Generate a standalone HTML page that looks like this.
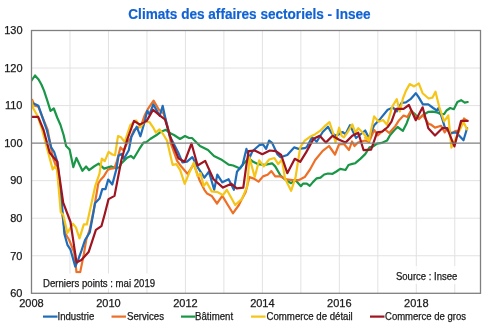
<!DOCTYPE html>
<html><head><meta charset="utf-8"><style>
html,body{margin:0;padding:0;background:#fff;width:500px;height:330px;overflow:hidden}
svg{display:block;will-change:transform}
text{font-family:"Liberation Sans",sans-serif;fill:#1a1a1a;stroke:#1a1a1a;stroke-width:0.25px}
.ax{font-size:11px}
.title{font-size:14px;font-weight:bold;fill:#1262d2;stroke:#1262d2;stroke-width:0.2px}
.note{font-size:10px}
.leg{font-size:10px;letter-spacing:-0.15px}
</style></head><body>
<svg width="500" height="330" viewBox="0 0 500 330">
<defs><clipPath id="pc"><rect x="31.5" y="30.5" width="449" height="262.8"/></clipPath></defs>
<line x1="69.98" y1="30.5" x2="69.98" y2="293.3" stroke="#e2e2e2" stroke-width="1"/>
<line x1="108.46" y1="30.5" x2="108.46" y2="293.3" stroke="#e2e2e2" stroke-width="1"/>
<line x1="146.94" y1="30.5" x2="146.94" y2="293.3" stroke="#e2e2e2" stroke-width="1"/>
<line x1="185.42" y1="30.5" x2="185.42" y2="293.3" stroke="#e2e2e2" stroke-width="1"/>
<line x1="223.90" y1="30.5" x2="223.90" y2="293.3" stroke="#e2e2e2" stroke-width="1"/>
<line x1="262.38" y1="30.5" x2="262.38" y2="293.3" stroke="#e2e2e2" stroke-width="1"/>
<line x1="300.86" y1="30.5" x2="300.86" y2="293.3" stroke="#e2e2e2" stroke-width="1"/>
<line x1="339.34" y1="30.5" x2="339.34" y2="293.3" stroke="#e2e2e2" stroke-width="1"/>
<line x1="377.82" y1="30.5" x2="377.82" y2="293.3" stroke="#e2e2e2" stroke-width="1"/>
<line x1="416.30" y1="30.5" x2="416.30" y2="293.3" stroke="#e2e2e2" stroke-width="1"/>
<line x1="454.78" y1="30.5" x2="454.78" y2="293.3" stroke="#e2e2e2" stroke-width="1"/>
<line x1="31.5" y1="255.74" x2="480.5" y2="255.74" stroke="#e2e2e2" stroke-width="1"/>
<line x1="31.5" y1="218.20" x2="480.5" y2="218.20" stroke="#e2e2e2" stroke-width="1"/>
<line x1="31.5" y1="180.66" x2="480.5" y2="180.66" stroke="#e2e2e2" stroke-width="1"/>
<line x1="31.5" y1="105.58" x2="480.5" y2="105.58" stroke="#e2e2e2" stroke-width="1"/>
<line x1="31.5" y1="68.04" x2="480.5" y2="68.04" stroke="#e2e2e2" stroke-width="1"/>
<polyline clip-path="url(#pc)" points="31.6,80.5 35.0,75.5 38.6,79.5 41.4,84.5 44.1,90.9 47.4,100.9 50.5,110.9 53.8,108.5 57.2,117.5 60.5,125.0 63.6,135.0 66.1,145.9 69.6,149.5 73.3,167.1 76.4,158.0 82.4,170.8 86.1,166.5 89.1,170.2 94.0,166.5 98.6,163.6 104.1,168.6 111.4,166.4 115.9,168.2 119.5,167.3 121.1,163.8 127.1,157.7 130.8,155.9 133.8,158.3 139.2,149.2 143.5,142.6 146.5,142.0 150.2,139.0 156.2,135.3 161.1,131.7 165.9,129.8 170.8,133.5 174.0,135.0 180.0,139.0 185.0,136.0 189.0,138.0 192.0,138.0 200.0,146.0 208.0,150.0 214.0,156.0 221.1,159.4 228.6,164.7 233.2,165.5 240.0,168.5 243.3,164.1 248.6,158.0 253.2,161.8 257.7,164.1 264.5,164.8 272.1,163.3 275.2,166.4 280.5,175.5 285.0,179.4 291.1,183.2 295.6,180.2 300.9,186.2 303.0,183.6 306.8,183.6 309.8,185.9 312.9,182.1 316.7,178.3 320.5,177.6 324.2,174.5 328.0,173.5 332.6,173.8 336.4,171.5 340.2,168.9 345.5,170.0 348.5,165.0 352.3,163.9 355.3,163.2 360.6,158.6 365.2,154.1 369.5,147.4 373.0,146.5 377.1,143.6 381.7,142.9 387.0,140.6 390.0,135.3 394.5,130.0 397.6,127.0 402.9,130.8 406.7,123.2 411.2,111.1 415.0,114.1 418.8,118.6 423.3,114.8 428.6,111.8 432.6,111.7 436.8,112.3 440.5,114.1 444.1,114.1 446.5,110.5 450.2,108.0 453.8,109.2 457.4,102.0 461.1,100.2 464.7,102.6 467.7,102.0" fill="none" stroke="#1a9647" stroke-width="2.2" stroke-linejoin="round" stroke-linecap="round"/>
<polyline clip-path="url(#pc)" points="32.2,100.0 34.7,105.7 38.3,106.6 43.6,120.0 47.7,130.0 52.7,157.0 57.5,170.0 62.0,212.3 65.0,232.9 69.2,240.0 74.1,252.1 76.5,272.1 80.2,272.1 83.8,254.5 86.2,240.0 89.8,229.2 94.7,205.0 98.3,183.3 100.5,180.0 104.1,175.9 107.7,170.0 110.9,168.6 114.5,168.2 116.8,161.4 120.5,147.4 123.5,150.5 128.3,140.8 130.3,138.9 134.0,130.0 137.4,128.0 140.9,126.2 144.6,115.6 147.8,109.2 153.6,100.6 158.9,109.7 163.5,113.5 168.0,127.9 171.1,144.2 177.1,160.9 181.7,167.1 187.7,173.9 193.8,164.1 199.8,180.8 204.4,189.8 207.1,193.6 211.7,195.9 217.0,203.5 222.3,195.9 232.9,213.3 238.9,205.0 241.1,200.6 245.6,192.3 249.4,177.1 253.9,178.6 258.5,181.7 263.0,176.4 267.6,174.8 271.4,171.1 275.2,176.4 280.5,176.4 286.5,179.4 292.6,180.2 298.6,180.2 304.7,177.1 310.0,169.5 315.2,160.0 322.7,150.9 329.0,146.0 335.0,154.5 339.0,144.5 344.0,144.0 349.0,150.0 352.0,141.5 354.5,146.0 358.0,142.5 365.0,140.5 369.0,142.0 374.1,130.0 377.9,135.3 384.7,129.2 389.2,133.0 395.3,126.2 399.1,120.2 403.6,115.6 407.4,117.1 411.2,110.3 415.0,116.4 419.0,119.0 422.9,115.0 428.6,123.9 430.8,124.5 435.0,127.6 441.1,125.8 444.7,132.4 447.7,128.2 451.4,133.6 455.0,131.2 458.6,130.6 464.1,118.5 467.1,120.9" fill="none" stroke="#ed7026" stroke-width="2.2" stroke-linejoin="round" stroke-linecap="round"/>
<polyline clip-path="url(#pc)" points="31.6,102.7 35.3,104.2 38.4,105.8 42.7,118.2 46.8,130.0 51.2,147.4 54.2,152.0 57.3,161.8 59.5,180.0 62.0,205.2 64.4,234.0 67.4,244.8 70.5,249.7 75.3,266.7 78.3,259.4 81.4,250.9 85.0,240.0 89.8,232.3 93.5,212.3 95.0,203.2 99.5,198.6 102.3,189.1 105.5,189.1 108.2,179.5 112.3,184.5 116.4,169.1 118.5,155.8 121.5,153.9 123.9,158.8 128.8,150.3 131.4,136.8 136.7,126.7 140.4,136.3 144.6,122.0 147.3,110.8 149.5,114.5 153.3,104.4 159.7,115.8 162.7,105.9 165.0,116.5 169.5,135.5 178.6,153.3 182.4,162.4 187.0,161.7 192.3,157.1 197.6,167.1 204.4,177.7 208.9,171.7 214.2,189.8 217.3,174.7 222.3,182.3 228.6,179.2 233.9,189.8 237.0,171.7 242.6,164.8 246.4,148.9 249.4,158.0 252.4,151.2 259.2,145.2 263.0,144.4 266.1,148.9 269.1,140.6 272.1,142.9 277.4,154.2 280.5,157.3 287.3,155.0 294.1,147.4 298.6,148.9 304.7,148.2 306.8,147.1 312.1,137.3 316.7,141.8 322.7,132.0 328.0,126.7 331.8,133.5 336.4,135.8 342.4,132.0 345.5,134.2 350.0,125.2 356.1,138.0 365.2,130.5 368.9,138.0 374.2,125.2 380.2,118.9 387.7,109.8 393.0,107.6 396.8,111.4 401.4,103.0 405.9,102.3 410.5,99.2 415.8,93.2 418.6,97.1 422.9,104.4 428.3,104.4 433.2,108.0 436.8,110.5 438.6,108.0 442.3,118.9 444.7,127.0 450.8,133.0 456.2,132.4 463.5,140.3 467.1,128.2" fill="none" stroke="#1f6cb8" stroke-width="2.2" stroke-linejoin="round" stroke-linecap="round"/>
<polyline clip-path="url(#pc)" points="31.6,100.9 33.2,108.2 37.3,115.5 41.4,127.3 52.7,169.4 55.0,166.4 57.1,170.0 60.8,212.3 63.2,214.7 67.4,232.9 72.9,223.8 75.9,227.4 79.5,238.3 83.8,224.4 86.8,224.4 91.1,205.0 95.3,185.8 99.5,173.6 101.8,158.6 104.8,161.1 108.6,151.8 112.3,154.5 115.0,155.3 118.0,136.1 121.1,137.3 124.7,142.1 130.3,125.1 136.1,120.4 140.4,127.3 144.0,122.0 149.4,122.0 153.1,127.3 155.8,132.6 159.5,129.4 163.5,134.7 167.1,140.8 169.0,149.2 172.6,164.8 176.4,164.1 180.2,170.2 184.7,183.8 188.5,174.7 193.8,162.6 197.6,176.2 200.6,173.2 203.6,186.1 206.7,182.3 211.7,191.4 217.7,192.1 223.0,195.2 226.8,189.8 235.2,205.0 242.0,198.9 247.3,186.1 249.4,157.3 254.7,177.0 259.2,160.3 263.8,166.4 269.1,159.5 274.4,158.0 278.2,164.1 282.0,159.5 285.0,178.6 291.1,190.8 295.6,177.1 300.2,147.4 304.7,140.6 310.6,136.5 315.2,134.2 319.7,131.2 324.2,126.7 329.5,122.1 333.0,133.0 335.5,142.3 339.1,127.7 341.5,135.6 343.9,137.4 347.0,133.2 352.3,124.4 355.3,132.7 358.3,128.2 362.1,132.0 366.7,137.3 369.7,140.3 365.0,137.6 368.8,140.6 374.1,116.4 378.6,121.7 383.0,120.0 387.0,124.7 392.3,106.5 396.8,99.2 399.8,111.4 402.9,98.5 405.9,90.9 409.7,84.1 414.2,86.4 418.8,83.3 422.6,93.2 428.6,98.5 432.4,97.7 435.5,91.7 439.2,106.8 444.1,121.4 448.3,115.5 451.4,147.6 463.5,122.1 467.1,129.4" fill="none" stroke="#f5c518" stroke-width="2.2" stroke-linejoin="round" stroke-linecap="round"/>
<polyline clip-path="url(#pc)" points="31.6,116.8 38.2,116.8 43.6,130.0 49.7,152.7 57.3,161.8 63.2,202.7 70.5,222.0 76.5,262.4 81.4,260.0 88.6,252.1 95.9,229.8 101.4,226.2 104.5,215.0 108.6,199.1 114.5,195.9 121.4,160.0 127.1,140.0 134.0,120.9 139.8,124.6 146.7,120.9 153.1,109.8 160.0,115.6 165.0,119.5 172.6,144.2 178.6,158.6 184.7,161.7 191.5,143.5 197.6,165.5 205.2,160.9 213.5,179.2 223.0,187.6 231.4,183.8 236.7,188.3 243.3,187.7 246.4,165.0 248.6,151.2 254.7,150.5 262.3,154.2 269.8,150.5 275.9,151.2 281.2,155.0 287.3,173.2 294.8,158.8 300.2,161.8 306.1,152.4 313.6,138.8 319.7,135.8 325.8,142.6 332.6,135.8 338.6,139.5 345.5,142.6 352.3,135.8 358.3,132.7 363.6,150.2 371.1,149.7 377.1,132.3 382.4,131.5 387.7,127.0 391.5,121.7 396.1,108.8 403.6,108.8 408.9,105.0 415.8,120.2 422.6,107.3 428.3,128.2 435.0,135.5 442.3,128.2 447.1,128.2 454.4,146.4 461.1,120.9 467.7,120.9" fill="none" stroke="#9e1420" stroke-width="2.2" stroke-linejoin="round" stroke-linecap="round"/>
<line x1="31.5" y1="143.12" x2="480.5" y2="143.12" stroke="#808080" stroke-width="1.3"/>
<rect x="31.5" y="30.5" width="449" height="262.8" fill="none" stroke="#7f7f7f" stroke-width="1.3"/>
<text x="22.5" y="297.08" text-anchor="end" class="ax">60</text>
<text x="22.5" y="259.54" text-anchor="end" class="ax">70</text>
<text x="22.5" y="222.00" text-anchor="end" class="ax">80</text>
<text x="22.5" y="184.46" text-anchor="end" class="ax">90</text>
<text x="22.5" y="146.92" text-anchor="end" class="ax">100</text>
<text x="22.5" y="109.38" text-anchor="end" class="ax">110</text>
<text x="22.5" y="71.84" text-anchor="end" class="ax">120</text>
<text x="22.5" y="34.30" text-anchor="end" class="ax">130</text>
<text x="31.50" y="306.5" text-anchor="middle" class="ax">2008</text>
<text x="108.46" y="306.5" text-anchor="middle" class="ax">2010</text>
<text x="185.42" y="306.5" text-anchor="middle" class="ax">2012</text>
<text x="262.38" y="306.5" text-anchor="middle" class="ax">2014</text>
<text x="339.34" y="306.5" text-anchor="middle" class="ax">2016</text>
<text x="416.30" y="306.5" text-anchor="middle" class="ax">2018</text>
<rect x="39" y="273.5" width="121" height="15" fill="#fff"/>
<rect x="391" y="266" width="71" height="18" fill="#fff" fill-opacity="0.85"/>
<text x="128.30" y="18.9" textLength="242.31" lengthAdjust="spacingAndGlyphs" class="title">Climats des affaires sectoriels - Insee</text>
<text x="43.04" y="287.2" textLength="112.10" lengthAdjust="spacingAndGlyphs" class="note">Derniers points : mai 2019</text>
<text x="396.00" y="279.9" textLength="61.26" lengthAdjust="spacingAndGlyphs" class="note">Source : Insee</text>
<text x="57.54" y="319.5" textLength="36.80" lengthAdjust="spacingAndGlyphs" class="note">Industrie</text>
<text x="127.00" y="319.5" textLength="37.05" lengthAdjust="spacingAndGlyphs" class="note">Services</text>
<text x="195.04" y="319.5" textLength="38.05" lengthAdjust="spacingAndGlyphs" class="note">Bâtiment</text>
<text x="266.50" y="319.5" textLength="86.26" lengthAdjust="spacingAndGlyphs" class="note">Commerce de détail</text>
<text x="385.00" y="319.5" textLength="81.03" lengthAdjust="spacingAndGlyphs" class="note">Commerce de gros</text>
<line x1="43" y1="316.6" x2="57.5" y2="316.6" stroke="#1f6cb8" stroke-width="2.2"/>
<line x1="111.5" y1="316.6" x2="126.0" y2="316.6" stroke="#ed7026" stroke-width="2.2"/>
<line x1="181" y1="316.6" x2="195.5" y2="316.6" stroke="#1a9647" stroke-width="2.2"/>
<line x1="251" y1="316.6" x2="265.5" y2="316.6" stroke="#f5c518" stroke-width="2.2"/>
<line x1="370" y1="316.6" x2="384.5" y2="316.6" stroke="#9e1420" stroke-width="2.2"/>
</svg>
</body></html>
